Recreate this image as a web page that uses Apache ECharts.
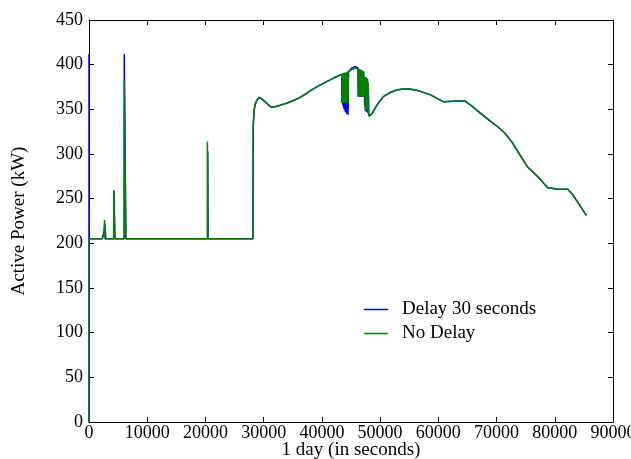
<!DOCTYPE html>
<html>
<head>
<meta charset="utf-8">
<script src="https://cdn.jsdelivr.net/npm/echarts@6/dist/echarts.min.js"></script>
<style>
  html, body { margin: 0; padding: 0; background: #fff; }
  #chart { width: 631px; height: 459px; }
</style>
</head>
<body>
<div id="chart"></div>
<script>
// Active power over one day: [seconds, kW] samples.
const seriesNames = ['Delay 30 seconds', 'No Delay'];

// Morning start-up transients (flat 205 kW baseline with spikes)
const earlyDelay = [
  [0, 0], [0, 412], [30, 205], [2250, 205], [2600, 214], [2700, 221], [2760, 205],
  [4240, 205], [4260, 259], [4430, 259], [4450, 205],
  [6050, 205], [6060, 412], [6320, 412], [6330, 205],
  [20390, 205], [20400, 303], [20440, 303], [20450, 205],
  [28150, 205]
];
const earlyNoDelay = [
  [0, 0], [0, 205], [2300, 205], [2620, 212], [2660, 226], [2900, 226], [2920, 205],
  [4240, 205], [4260, 259], [4430, 259], [4450, 205],
  [6050, 205], [6060, 383], [6320, 383], [6330, 205],
  [20330, 205], [20340, 314], [20380, 314], [20390, 205],
  [28150, 205]
];

// Midday ramp shared by both runs
const riseCurve = [
  [28200, 330], [28350, 348], [28510, 355], [28800, 360], [29250, 363.4], [29700, 361.5],
  [30230, 358.6], [30800, 355], [31380, 352.3], [32300, 353.5], [33380, 355.6],
  [34700, 358.8], [35960, 362.3], [37100, 366.8], [38250, 371.7], [39500, 376.5],
  [40830, 381], [42100, 385.3], [43400, 389.2]
];

// Oscillating interval around noon
const oscDelay = [
  [43450, 357], [43520, 390], [43600, 354], [43680, 390], [43750, 351], [43830, 391],
  [43900, 349], [43980, 391], [44050, 347], [44130, 391], [44200, 345.5], [44280, 392],
  [44350, 344.5], [44430, 392], [44500, 344], [44560, 392],
  [44800, 394], [45100, 396], [45400, 397.5], [45700, 398], [46000, 397.5], [46200, 396],
  [46260, 364], [46340, 395], [46420, 364], [46500, 395], [46580, 364], [46660, 394],
  [46740, 364], [46820, 394], [46900, 364], [46980, 393], [47060, 364], [47150, 392],
  [47300, 372], [47350, 355], [47400, 386], [47470, 348], [47540, 386], [47610, 348],
  [47680, 385], [47750, 347], [47820, 384], [47890, 346], [47960, 380], [48030, 344],
  [48090, 343]
];
const oscNoDelay = [
  [43450, 357], [43520, 390], [43600, 357], [43680, 390], [43750, 357], [43830, 391],
  [43900, 357], [43980, 391], [44050, 357], [44130, 391], [44200, 357], [44280, 392],
  [44350, 357], [44430, 392], [44500, 357], [44560, 392],
  [44800, 393], [45100, 394.5], [45400, 395.5], [45700, 396], [46000, 395.5], [46200, 395],
  [46260, 364], [46340, 395], [46420, 364], [46500, 395], [46580, 364], [46660, 394],
  [46740, 364], [46820, 394], [46900, 364], [46980, 393], [47060, 364], [47150, 392],
  [47200, 364], [47400, 386], [47470, 349], [47540, 386], [47610, 349],
  [47680, 385], [47750, 349], [47820, 384], [47890, 348], [47960, 380], [48030, 346],
  [48090, 342]
];

// Afternoon decline shared by both runs
const tailCurve = [
  [48400, 343.5], [48700, 346], [49120, 351], [49800, 358], [50550, 364.2], [51600, 368.5],
  [52840, 371.7], [54270, 373.1], [55300, 372.6], [56280, 371.3], [57400, 369],
  [58570, 366.5], [59700, 362.5], [60860, 358.6], [62580, 359], [64590, 359.3],
  [65700, 354], [66880, 347.4], [68880, 337], [70200, 330.5], [71450, 323.2],
  [72600, 313.8], [74030, 298.9], [75290, 285.8], [77180, 273.9], [78780, 262.3],
  [80330, 260.8], [82220, 260.5], [83000, 255], [83760, 247.8], [85310, 232.5], [85480, 231.5]
];

const xTicks = { min: 0, max: 90000, interval: 10000 };
const yTicks = { min: 0, max: 450, interval: 50 };

const serif = 'Liberation Serif';
const frame = { show: true, onZero: false, lineStyle: { color: '#000', width: 1 } };
const ticksIn = { show: true, inside: true, length: 5, lineStyle: { color: '#000', width: 1 } };
const plain = v => String(v);

const chart = echarts.init(document.getElementById('chart'), null, { renderer: 'canvas' });
chart.setOption({
  animation: false,
  backgroundColor: '#fff',
  grid: { left: 89, right: 18, top: 20, bottom: 37, containLabel: false, outerBoundsMode: 'none' },
  legend: {
    data: seriesNames,
    orient: 'vertical',
    left: 359,
    top: 295,
    icon: 'rect',
    itemWidth: 24,
    itemHeight: 1.5,
    itemGap: 5,
    textStyle: { fontFamily: serif, fontSize: 19, color: '#000', padding: [0, 0, 0, 9] }
  },
  xAxis: [
    {
      type: 'value', position: 'bottom', ...xTicks,
      axisLine: frame, axisTick: ticksIn, splitLine: { show: false },
      axisLabel: { fontFamily: serif, fontSize: 18, color: '#000', margin: 2, formatter: plain },
      name: '1 day (in seconds)', nameLocation: 'middle', nameGap: 19, nameMoveOverlap: false,
      nameTextStyle: { fontFamily: serif, fontSize: 19, color: '#000' }
    },
    {
      type: 'value', position: 'top', ...xTicks,
      axisLine: frame, axisTick: ticksIn, splitLine: { show: false },
      axisLabel: { show: false }
    }
  ],
  yAxis: [
    {
      type: 'value', position: 'left', ...yTicks,
      axisLine: frame, axisTick: ticksIn, splitLine: { show: false },
      axisLabel: { fontFamily: serif, fontSize: 18, color: '#000', margin: 6, formatter: plain },
      name: 'Active Power (kW)', nameLocation: 'middle', nameGap: 60, nameMoveOverlap: false,
      nameTextStyle: { fontFamily: serif, fontSize: 19, color: '#000' }
    },
    {
      type: 'value', position: 'right', ...yTicks,
      axisLine: frame, axisTick: ticksIn, splitLine: { show: false },
      axisLabel: { show: false }
    }
  ],
  series: [
    {
      name: seriesNames[0], type: 'line', xAxisIndex: 0, yAxisIndex: 0,
      showSymbol: false, color: '#0000ff',
      lineStyle: { width: 1.5, color: '#0000ff' },
      data: earlyDelay.concat(riseCurve, oscDelay, tailCurve)
    },
    {
      name: seriesNames[1], type: 'line', xAxisIndex: 0, yAxisIndex: 0,
      showSymbol: false, color: '#008000',
      lineStyle: { width: 1.5, color: '#008000' },
      data: earlyNoDelay.concat(riseCurve, oscNoDelay, tailCurve)
    }
  ]
});
</script>
</body>
</html>
